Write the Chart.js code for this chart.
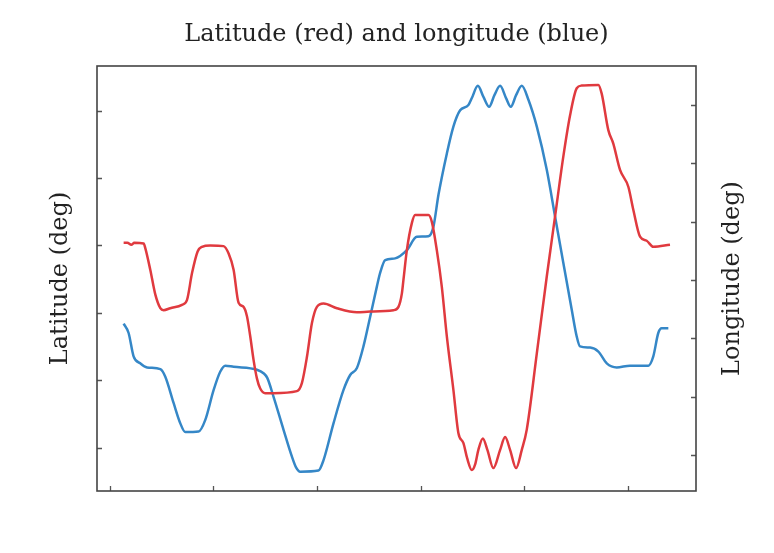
<!DOCTYPE html>
<html>
<head>
<meta charset="utf-8">
<script src="https://cdn.jsdelivr.net/npm/chart.js@4/dist/chart.umd.min.js"></script>
<style>
  html, body { margin: 0; padding: 0; background: #fff; }
  canvas { display: block; }
</style>
</head>
<body>
<canvas id="c" width="774" height="553"></canvas>
<script>
// ---- Data ----
const latTime = [13.5,17.1,20.9,23.8,32.8,34.4,39.2,44.1,48.9,52.1,58.5,69.8,74.6,79.5,84.9,89.1,97.1,109.9,114.8,119.6,124.4,129.2,132.5,135.7,138.9,142.1,145.3,150.1,158.1,180.7,185.5,190.4,195.2,200.0,206.4,219.3,238.6,251.4,273.9,278.7,282.0,283.5,286.8,291.6,294.8,307.6,310.9,315.7,320.5,325.4,331.7,336.5,341.4,344.9,349.5,352.6,355.8,360.1,364.5,370.3,376.8,381.6,386.4,392.2,397.7,402.5,412.2,421.8,429.8,437.8,444.3,450.7,455.5,471.6,474.8,481.2,486.0,492.5,500.5,505.3,511.8,518.2,524.6,540.7];
const latitude = [30.4,30.4,30.1,30.4,30.3,29.6,26.4,22.7,20.7,20.4,20.7,21.2,21.9,25.9,29.1,29.8,30.0,29.9,28.8,26.4,21.5,20.9,19.5,16.5,13.0,10.3,8.8,8.1,8.1,8.4,9.6,13.5,18.5,20.9,21.4,20.7,20.1,20.2,20.4,20.9,22.9,24.9,29.3,33.3,34.5,34.5,33.5,29.3,23.9,16.5,8.6,2.2,0.7,-1.5,-3.3,-2.5,-0.3,1.4,-0.3,-3.0,-0.3,1.6,-0.3,-3.0,-0.3,2.7,14.0,25.4,34.3,43.2,49.3,53.3,53.7,53.8,52.5,47.1,45.1,41.2,38.7,35.3,31.3,30.7,29.8,30.1];

const lonTime = [13.5,18.3,23.1,29.6,36.1,48.9,53.7,61.7,68.2,73.0,85.8,92.3,100.3,106.8,111.6,119.6,142.1,148.5,152.1,158.1,167.8,175.9,180.0,183.9,201.5,206.4,216.0,225.6,232.1,238.6,244.9,251.4,257.9,261.0,265.9,275.5,286.8,296.4,307.6,312.4,317.3,325.4,331.7,338.2,346.2,349.5,355.3,360.7,366.2,371.3,376.8,382.5,387.1,392.2,397.7,404.1,412.2,421.8,429.8,437.8,445.9,450.7,453.9,463.6,471.6,479.7,489.3,502.1,519.8,524.6,529.4,532.7,539.1];
const longitude = [22.5,20.9,16.9,15.7,15.0,14.7,13.4,8.9,5.4,3.9,4.0,6.0,11.1,14.3,15.3,15.1,14.6,14.0,13.2,10.0,4.3,-0.3,-2.2,-2.9,-2.7,-0.9,5.4,11.1,13.7,14.9,18.6,23.7,28.9,31.2,33.4,33.7,35.1,37.4,37.5,39.1,44.6,51.7,56.3,59.1,60.0,61.2,63.3,61.4,59.7,61.7,63.3,61.2,59.7,61.7,63.3,60.9,56.3,48.9,40.9,32.9,24.9,20.3,18.6,18.4,17.7,15.7,15.0,15.3,15.3,16.9,20.9,21.7,21.7];

const timeTicks = [0,100,200,300,400,500];
const latTicks = [0,10,20,30,40,50];
const lonTicks = [0,10,20,30,40,50,60];

const serif = "'DejaVu Serif', serif";
const rightTitle = 'Longitude (deg)';

// ---- Inward tick marks, frame and right-axis title (reads bottom-to-top) ----
const frameTicks = {
  id: 'frameTicks',
  afterDatasetsDraw(chart) {
    const ctx = chart.ctx, a = chart.chartArea;
    const sx = chart.scales.x, sl = chart.scales.yLat, sr = chart.scales.yLon;
    ctx.save();
    ctx.strokeStyle = '#555';
    ctx.lineWidth = 1.3;
    ctx.beginPath();
    timeTicks.forEach(v => { const p = Math.round(sx.getPixelForValue(v)) + 0.5; ctx.moveTo(p, a.bottom); ctx.lineTo(p, a.bottom - 5); });
    latTicks.forEach(v => { const p = Math.round(sl.getPixelForValue(v)) + 0.5; ctx.moveTo(a.left, p); ctx.lineTo(a.left + 5, p); });
    lonTicks.forEach(v => { const p = Math.round(sr.getPixelForValue(v)) + 0.5; ctx.moveTo(a.right, p); ctx.lineTo(a.right - 5, p); });
    ctx.stroke();
    ctx.strokeStyle = '#444';
    ctx.lineWidth = 1.6;
    ctx.strokeRect(a.left, a.top, a.right - a.left, a.bottom - a.top);

    // right axis title, rotated like the left one
    ctx.translate(a.right + 37, (a.top + a.bottom) / 2);
    ctx.rotate(-Math.PI / 2);
    ctx.fillStyle = '#222';
    ctx.font = '24px ' + serif;
    ctx.textAlign = 'center';
    ctx.textBaseline = 'middle';
    ctx.fillText(rightTitle, 0, 0);
    ctx.restore();
  }
};

new Chart(document.getElementById('c'), {
  type: 'line',
  data: {
    datasets: [
      {
        label: 'Latitude',
        data: latTime.map((t, i) => ({x: t, y: latitude[i]})),
        yAxisID: 'yLat',
        borderColor: '#e03a3f',
        borderWidth: 2.5,
        pointRadius: 0,
        cubicInterpolationMode: 'monotone',
        fill: false
      },
      {
        label: 'Longitude',
        data: lonTime.map((t, i) => ({x: t, y: longitude[i]})),
        yAxisID: 'yLon',
        borderColor: '#3587c7',
        borderWidth: 2.5,
        pointRadius: 0,
        cubicInterpolationMode: 'monotone',
        fill: false
      }
    ]
  },
  options: {
    responsive: false,
    animation: false,
    devicePixelRatio: 1,
    layout: { padding: 0 },
    plugins: {
      legend: { display: false },
      tooltip: { enabled: false },
      title: {
        display: true,
        fullSize: false,
        text: 'Latitude (red) and longitude (blue)',
        color: '#222',
        font: { family: serif, size: 24, weight: 'normal', lineHeight: 1.2 },
        padding: { top: 20.4, bottom: 16.8 }
      }
    },
    scales: {
      x: {
        type: 'linear',
        position: 'bottom',
        min: -12.2,
        max: 565.8,
        ticks: { display: false, stepSize: 100 },
        grid: { display: false },
        border: { display: false },
        afterFit(s) { s.height = 62; }
      },
      yLat: {
        type: 'linear',
        position: 'left',
        min: -6.4,
        max: 56.6,
        ticks: { display: false, stepSize: 10 },
        grid: { display: false },
        border: { display: false },
        title: {
          display: true,
          text: 'Latitude (deg)',
          color: '#222',
          font: { family: serif, size: 24, weight: 'normal', lineHeight: 1.2 },
          padding: { top: 46, bottom: 0 }
        },
        afterFit(s) { s.width = 97; }
      },
      yLon: {
        type: 'linear',
        position: 'right',
        min: -6.2,
        max: 66.7,
        ticks: { display: false, stepSize: 10 },
        grid: { display: false },
        border: { display: false },
        afterFit(s) { s.width = 78; }
      }
    }
  },
  plugins: [frameTicks]
});
</script>
</body>
</html>
